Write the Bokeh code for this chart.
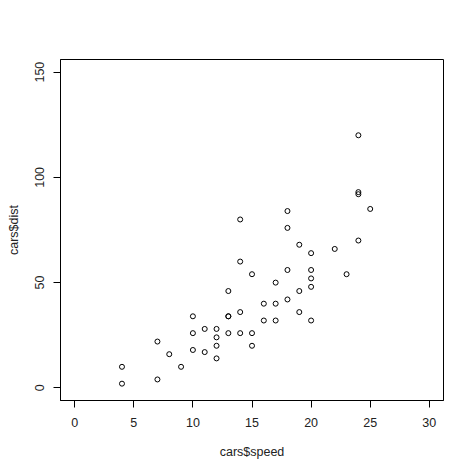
from bokeh.plotting import figure
from bokeh.models import Range1d, FixedTicker
from bokeh.embed import file_html
from bokeh.resources import INLINE

speed = [4, 4, 7, 7, 8, 9, 10, 10, 10, 11, 11, 12, 12, 12, 12, 13, 13, 13, 13, 14,
         14, 14, 14, 15, 15, 15, 16, 16, 17, 17, 17, 18, 18, 18, 18, 19, 19, 19, 20, 20,
         20, 20, 20, 22, 23, 24, 24, 24, 24, 25]
dist = [2, 10, 4, 22, 16, 10, 18, 26, 34, 17, 28, 14, 20, 24, 28, 26, 34, 34, 46, 26,
        36, 60, 80, 20, 26, 54, 32, 40, 32, 40, 50, 42, 56, 76, 84, 36, 46, 68, 32, 48,
        52, 56, 64, 66, 54, 70, 92, 93, 120, 85]
x_ticks = [0, 5, 10, 15, 20, 25, 30]
y_ticks = [0, 50, 100, 150]
x_label = "cars$speed"
y_label = "cars$dist"

p = figure(width=474, height=474, output_backend="svg", toolbar_location=None,
           x_range=Range1d(-1.2, 31.2), y_range=Range1d(-6, 156),
           min_border_left=60, min_border_right=31, min_border_top=59, min_border_bottom=73)
p.frame_width = 383
p.frame_height = 341
p.grid.visible = False
p.outline_line_color = "black"
p.outline_line_width = 1
p.outline_line_alpha = 1
p.background_fill_color = "white"
p.border_fill_color = "white"

p.scatter(speed, dist, size=5, marker="circle", fill_color=None,
          line_color="black", line_width=1)

font = "Liberation Sans"
for ax in (p.xaxis[0], p.yaxis[0]):
    ax.axis_line_color = "black"
    ax.major_tick_line_color = "black"
    ax.minor_tick_line_color = None
    ax.major_tick_in = 0
    ax.major_tick_out = 7
    ax.major_label_text_font = font
    ax.major_label_text_font_size = "12.5px"
    ax.major_label_text_color = "#222222"
    ax.axis_label_text_font = font
    ax.axis_label_text_font_size = "12.5px"
    ax.axis_label_text_font_style = "normal"
    ax.axis_label_text_color = "#222222"

p.xaxis[0].ticker = FixedTicker(ticks=x_ticks)
p.yaxis[0].ticker = FixedTicker(ticks=y_ticks)
p.xaxis[0].axis_label = x_label
p.yaxis[0].axis_label = y_label
p.xaxis[0].major_label_standoff = 10
p.xaxis[0].axis_label_standoff = 15
p.yaxis[0].major_label_orientation = "vertical"
p.yaxis[0].major_label_standoff = 9
p.yaxis[0].axis_label_standoff = 12

open("out.html", "w").write(file_html(p, INLINE))
